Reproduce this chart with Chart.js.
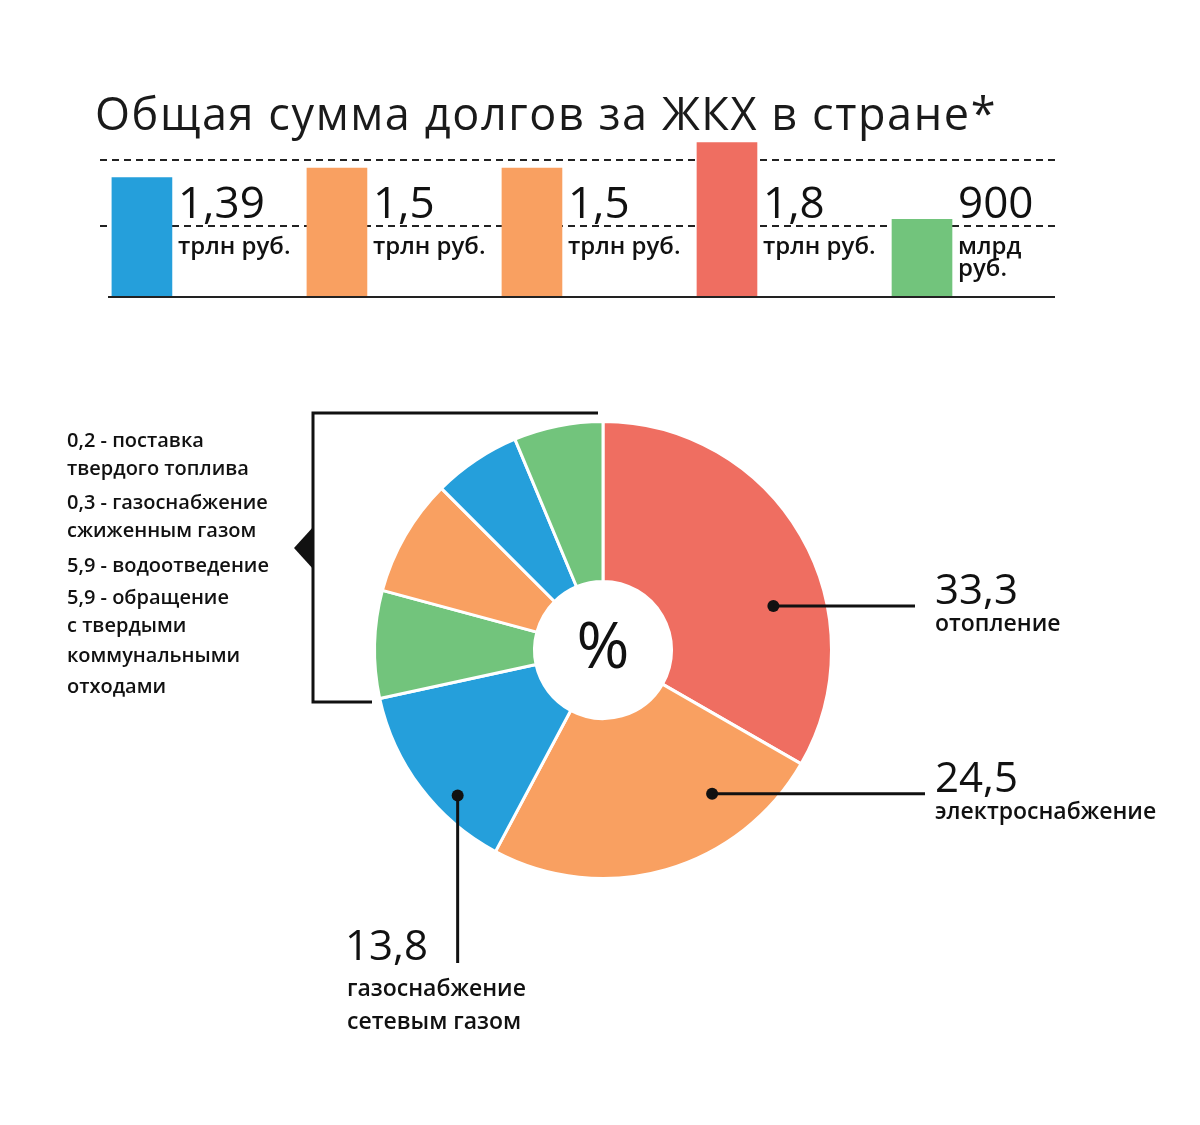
<!DOCTYPE html>
<html><head><meta charset="utf-8">
<script src="https://cdn.jsdelivr.net/npm/chart.js@4"></script>
<style>
body{margin:0;width:1200px;height:1125px;background:#fff;position:relative;font-family:"Open Sans",Roboto,sans-serif;overflow:hidden}
#title{position:absolute;left:95px;top:82px;font-size:45px;color:#1a1a1a;white-space:nowrap;letter-spacing:1.6px}
#bars{position:absolute;left:100px;top:100px}
#pie{position:absolute;left:0;top:0}
</style></head><body>
<canvas id="pie" width="1200" height="1125"></canvas>
<div id="title">Общая сумма долгов за ЖКХ в стране*</div>
<canvas id="bars" width="955" height="200"></canvas>
<script>
const barValues=[1.39,1.5,1.5,1.8,0.9];
const barColors=['#259fdb','#f9a061','#f9a061','#ef6e61','#72c47c'];
const barBig=['1,39','1,5','1,5','1,8','900'];
const barSmall=[['трлн руб.'],['трлн руб.'],['трлн руб.'],['трлн руб.'],['млрд','руб.']];
const dashLevels=[1.511,0.778];

const pieLabels=['отопление','электроснабжение','газоснабжение сетевым газом','прочее 1','прочее 2','прочее 3','прочее 4'];
const pieValues=[33.3,24.5,13.8,7.6,8.3,6.2,6.3];
const pieColors=['#ef6e61','#f9a061','#259fdb','#72c47c','#f9a061','#259fdb','#72c47c'];
const calloutNums=['33,3','24,5','13,8'];
const calloutText=[['отопление'],['электроснабжение'],['газоснабжение','сетевым газом']];
const calloutFrac=[0.63,0.26,0.34];
const calloutRad=[0.77,0.79,0.9];
const sideList=['0,2 - поставка','твердого топлива','0,3 - газоснабжение','сжиженным газом','5,9 - водоотведение','5,9 - обращение','с твердыми','коммунальными','отходами'];
const sideY=[440,468,502,530,565,597,625,655,686];

const F='"Open Sans",Roboto,sans-serif';
new Chart(document.getElementById('bars'),{
 type:'bar',
 data:{datasets:[{data:barValues.map((v,i)=>({x:i,y:v})),backgroundColor:barColors,barThickness:60}]},
 options:{responsive:false,animation:false,layout:{padding:{top:0,bottom:4,left:0,right:0}},
  plugins:{legend:{display:false},tooltip:{enabled:false}},
  scales:{x:{type:'linear',offset:false,min:-0.215,max:4.682,display:false},y:{min:0,max:2.3,display:false}}},
 plugins:[{id:'deco',beforeDatasetsDraw(c){const g=c.ctx,y=c.scales.y;g.save();g.strokeStyle='#222';g.lineWidth=2;g.setLineDash([7,5]);
   const s=196/2.3, b0=y.getPixelForValue(0);
   dashLevels.forEach(v=>{const p=Math.round(y.getPixelForValue(v*90/s));g.beginPath();g.moveTo(0,p);g.lineTo(955,p);g.stroke();});
   g.setLineDash([]);const b=b0+1;g.beginPath();g.moveTo(8,b);g.lineTo(955,b);g.stroke();g.restore();},
  afterDatasetsDraw(c){const g=c.ctx,m=c.getDatasetMeta(0),y=c.scales.y;g.save();g.fillStyle='#111';g.textBaseline='alphabetic';
   m.data.forEach((el,i)=>{const x=el.x+36;g.font='44px '+F;g.fillText(barBig[i],x,y.getPixelForValue(0)-78);
     g.font='600 24px '+F;barSmall[i].forEach((t,k)=>g.fillText(t,x,y.getPixelForValue(0)-42+k*22));});g.restore();}}]
});

new Chart(document.getElementById('pie'),{
 type:'doughnut',
 data:{labels:pieLabels,datasets:[{data:pieValues,backgroundColor:pieColors,borderColor:'#fff',borderWidth:3}]},
 options:{responsive:false,animation:false,cutout:'30%',layout:{padding:{left:373,right:367,top:420,bottom:245}},
  plugins:{legend:{display:false},tooltip:{enabled:false}}},
 plugins:[{id:'ann',afterDraw(c){const g=c.ctx,m=c.getDatasetMeta(0);g.save();
  g.fillStyle='#111';g.font='64px '+F;g.textAlign='center';g.textBaseline='middle';
  const a0=m.data[0];g.fillText('%',a0.x,a0.y);g.textAlign='left';g.textBaseline='alphabetic';
  g.strokeStyle='#111';g.lineWidth=3;
  for(let i=0;i<3;i++){const a=m.data[i];const ang=a.startAngle+(a.endAngle-a.startAngle)*calloutFrac[i];const r=a.outerRadius*calloutRad[i];
   const px=a.x+Math.cos(ang)*r,py=a.y+Math.sin(ang)*r;
   g.beginPath();g.arc(px,py,6,0,7);g.fill();g.beginPath();g.moveTo(px,py);
   if(i<2){const ex=i==0?915:925;g.lineTo(ex,py);g.stroke();g.font='42px '+F;g.fillText(calloutNums[i],935,py-2);
     g.font='600 23px '+F;calloutText[i].forEach((t,k)=>g.fillText(t,935,py+25+k*30));}
   else{g.lineTo(px,963);g.stroke();g.font='42px '+F;g.fillText(calloutNums[i],345,960);
     g.font='600 23px '+F;calloutText[i].forEach((t,k)=>g.fillText(t,347,996+k*33));}}
  g.lineWidth=3;g.beginPath();g.moveTo(598,413);g.lineTo(313,413);g.lineTo(313,702);g.lineTo(372,702);g.stroke();
  g.beginPath();g.moveTo(314,526);g.lineTo(314,570);g.lineTo(294,548);g.closePath();g.fill();
  g.font='600 20px '+F;sideList.forEach((t,k)=>g.fillText(t,67,sideY[k]+7));
  g.restore();}}]
});
</script></body></html>
